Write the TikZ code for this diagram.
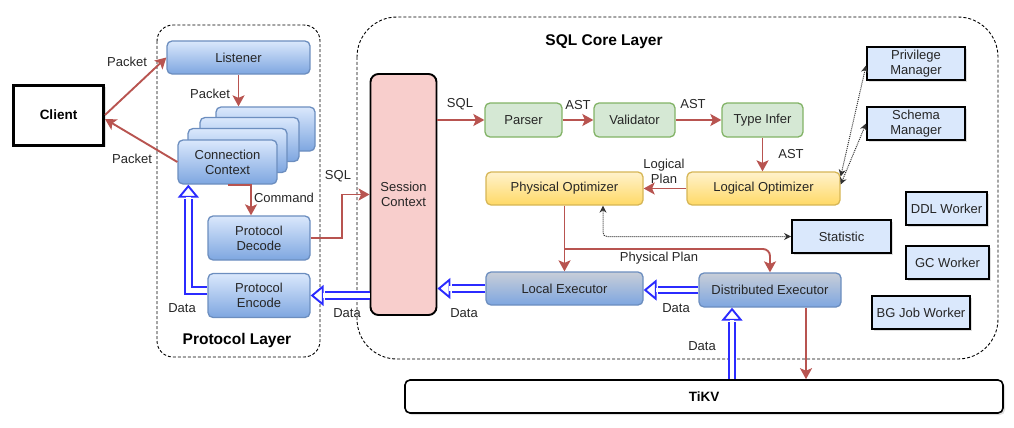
\documentclass[tikz,border=0pt]{standalone}
\usepackage{fontspec}
\setmainfont{Liberation Sans}
\usetikzlibrary{arrows.meta,shadows}

\definecolor{flowred}{HTML}{B85450}
\definecolor{datablue}{HTML}{2B2BFF}
\definecolor{blueline}{HTML}{6C8EBF}
\definecolor{bluetop}{HTML}{DAE8FC}
\definecolor{bluebot}{HTML}{7EA6E0}
\definecolor{greytop}{HTML}{C8CED8}
\definecolor{greenfill}{HTML}{D5E8D4}
\definecolor{greenline}{HTML}{82B366}
\definecolor{yellowtop}{HTML}{FFF2CC}
\definecolor{yellowbot}{HTML}{FFD966}
\definecolor{yellowline}{HTML}{D6B656}
\definecolor{pinkfill}{HTML}{F8CECC}

\tikzset{
  every node/.append style={font=\fontsize{13}{15}\selectfont, text=black!85},
  boldtext/.style={font=\fontsize{13.5}{16}\selectfont\bfseries, text=black},
  title/.style={font=\fontsize{15.5}{18}\selectfont\bfseries, text=black},
  layer/.style={draw=black, line width=0.9pt, dash pattern=on 3pt off 2pt},
  bluebox/.style={draw=blueline, line width=1.3pt, rounded corners=5pt, top color=bluetop, bottom color=bluebot, align=center, inner sep=0pt},
  execbox/.style={bluebox, top color=greytop},
  greenbox/.style={draw=greenline, line width=1.3pt, rounded corners=5pt, fill=greenfill, inner sep=0pt, minimum height=34pt},
  yellowbox/.style={draw=yellowline, line width=1.3pt, rounded corners=5pt, top color=yellowtop, bottom color=yellowbot, inner sep=0pt, minimum height=33pt},
  infobox/.style={draw=black, line width=1.9pt, fill=bluetop, align=center, inner sep=0pt, minimum height=33pt, drop shadow={shadow xshift=2pt, shadow yshift=-2pt, opacity=0.25}},
  plainbox/.style={draw=black, fill=white, inner sep=0pt, drop shadow={shadow xshift=2pt, shadow yshift=-2pt, opacity=0.25}},
  sessionbox/.style={draw=black, line width=1.9pt, rounded corners=8pt, fill=pinkfill, align=center, inner sep=0pt},
  flow/.style={draw=flowred, line width=1.9pt, -{Stealth[length=11pt, width=12pt, inset=2.5pt]}},
  link/.style={draw=black!80, line width=1pt, densely dotted, {Stealth[length=7pt, width=7pt]}-{Stealth[length=7pt, width=7pt]}},
  data/.style={draw=datablue, line width=1.9pt, -{Triangle[open, fill=white, length=13pt, width=21pt]},
    postaction={draw=datablue, line width=8.3pt, shorten >=14.5pt, -},
    postaction={draw=white, line width=4.5pt, shorten >=12pt, -}},
  lbl/.style={inner sep=1pt}
}

\begin{document}
\begin{tikzpicture}[x=1pt,y=-1pt]
  \useasboundingbox (0,0) rectangle (1014,428);

  % layers
  \draw[layer, rounded corners=16pt] (157,25) rectangle (320,357);
  \draw[layer, rounded corners=40pt] (357,17) rectangle (998,359);
  \node[title] (protocollabel) at (237,340) {Protocol Layer};
  \node[title] (sqllabel) at (604,42) {SQL Core Layer};

  % protocol layer
  \node[plainbox, boldtext, line width=3pt, minimum width=90pt, minimum height=60pt] (client) at (58.5,115) {Client};
  \node[bluebox, minimum width=143pt, minimum height=33pt] (listener) at (238.5,57.5) {Listener};
  \node[bluebox, minimum width=99pt, minimum height=44pt] (cc3) at (265.5,129) {};
  \node[bluebox, minimum width=99pt, minimum height=44pt] (cc2) at (249.5,139.5) {};
  \node[bluebox, minimum width=99pt, minimum height=44pt] (cc1) at (237.5,150.5) {};
  \node[bluebox, minimum width=99pt, minimum height=44pt] (cc) at (227.5,162) {Connection\\Context};
  \node[bluebox, minimum width=102pt, minimum height=44pt] (decode) at (259,238) {Protocol\\Decode};
  \node[bluebox, minimum width=102pt, minimum height=44pt] (encode) at (259,295.5) {Protocol\\Encode};

  % sql core layer
  \node[sessionbox, minimum width=66pt, minimum height=241pt] (session) at (403.5,194.5) {Session\\Context};
  \node[greenbox, minimum width=77pt] (parser) at (523.5,120) {Parser};
  \node[greenbox, minimum width=81pt] (validator) at (634.5,120) {Validator};
  \node[greenbox, minimum width=81pt] (typeinfer) at (762.5,120) {Type Infer};
  \node[yellowbox, minimum width=157pt] (phyopt) at (564.5,188.5) {Physical Optimizer};
  \node[yellowbox, minimum width=153pt] (logopt) at (763.5,188.5) {Logical Optimizer};
  \node[infobox, minimum width=98pt] (privilege) at (916,63.5) {Privilege\\Manager};
  \node[infobox, minimum width=98pt] (schema) at (916,123.5) {Schema\\Manager};
  \node[infobox, minimum width=81pt] (ddl) at (946.5,208.5) {DDL Worker};
  \node[infobox, minimum width=83pt] (gc) at (947.5,262.5) {GC Worker};
  \node[infobox, minimum width=98pt] (bgjob) at (921,312.5) {BG Job Worker};
  \node[infobox, minimum width=99pt] (statistic) at (841.5,236.5) {Statistic};
  \node[execbox, minimum width=157pt, minimum height=33pt] (localexec) at (564.5,288.5) {Local Executor};
  \node[execbox, minimum width=142pt, minimum height=34pt] (distexec) at (770,290) {Distributed Executor};
  \node[plainbox, boldtext, rounded corners=5pt, line width=1.6pt, minimum width=598pt, minimum height=33pt] (tikv) at (704,396.5) {TiKV};
  \coordinate (split) at (564.5,249);

  % red flows
  \draw[flow] (client.east)--(listener.west);
  \draw[flow] (cc.west)--([yshift=-4pt]client.east);
  \draw[flow] (listener.south)--(listener.south|-cc3.north);
  \draw[flow] (cc.south)-|([xshift=-8pt]decode.north);
  \draw[flow] (decode.east)--++(31,0)|-(session.west);
  \draw[flow] (session.east|-parser.west)--(parser.west);
  \draw[flow] (parser.east)--(validator.west);
  \draw[flow] (validator.east)--(typeinfer.west);
  \draw[flow] (typeinfer.south)--(typeinfer.south|-logopt.north);
  \draw[flow] (logopt.west)--(phyopt.east);
  \draw[flow] (phyopt.south)--(localexec.north);
  \draw[flow, rounded corners=7pt] (split)-|(distexec.north);
  \draw[flow] ([xshift=36pt]distexec.south)--([xshift=36pt]distexec.south|-tikv.north);

  % dotted links
  \draw[link, rounded corners=4pt] (statistic.west)-|([xshift=38.5pt]phyopt.south);
  \draw[link] ([yshift=12pt]logopt.east)--([yshift=-2pt]privilege.west);
  \draw[link] ([yshift=4pt]logopt.east)--(schema.west);

  % data flows
  \draw[data] (session.west|-encode.east)--(encode.east);
  \draw[data] ([yshift=5pt]encode.west)-|([xshift=11pt]cc.south west);
  \draw[data] (distexec.west)--(distexec.west-|localexec.east);
  \draw[data] (localexec.west)--(localexec.west-|session.east);
  \draw[data] ([xshift=-38pt]distexec.south|-tikv.north)--([xshift=-38pt]distexec.south);

  % labels
  \node[lbl] (pkin) at (127,62) {Packet};
  \node[lbl] (pkdown) at (210,94) {Packet};
  \node[lbl] (pkout) at (132,159) {Packet};
  \node[lbl] (cmd) at (284,198) {Command};
  \node[lbl] (sqlin) at (338,176) {SQL};
  \node[lbl] (dataup) at (182,308) {Data};
  \node[lbl] (dataenc) at (347,313) {Data};
  \node[lbl] (sqlparse) at (460,104) {SQL};
  \node[lbl] (asta) at (578,105) {AST};
  \node[lbl] (astb) at (693,104) {AST};
  \node[lbl] (astc) at (791,154) {AST};
  \node[lbl, align=center] (logplan) at (664,171) {Logical\\Plan};
  \node[lbl] (phyplan) at (659,258) {Physical Plan};
  \node[lbl] (datalocal) at (464,313) {Data};
  \node[lbl] (datadist) at (676,308) {Data};
  \node[lbl] (datatikv) at (702,346) {Data};
\end{tikzpicture}
\end{document}
